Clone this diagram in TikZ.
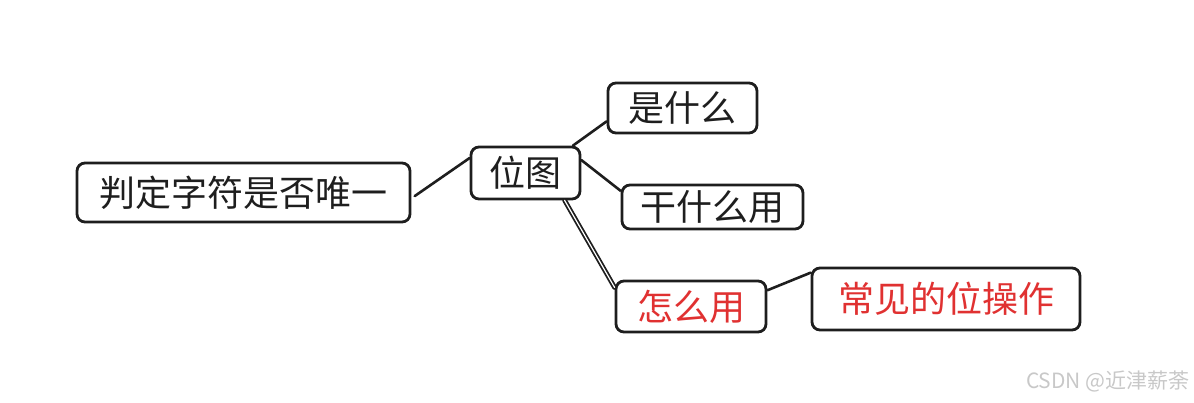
\documentclass[tikz,border=0pt]{standalone}
\usepackage{fontspec}
\newfontfamily\cjk{Noto Sans CJK SC}
\usepackage{tikz}
\usepackage{xcolor}
\definecolor{ink}{RGB}{30,30,30}
\definecolor{inkred}{RGB}{224,49,49}
\definecolor{mark}{RGB}{200,200,200}

\begin{document}
\begin{tikzpicture}[x=0.5pt,y=0.5pt,yscale=-1,xscale=1,
    box/.style={draw=ink,line width=1.4pt,rounded corners=4pt,inner sep=0pt,text=ink,font=\cjk\fontsize{18}{22}\selectfont},
    redbox/.style={box,text=inkred},
    link/.style={draw=ink,line width=1.3pt,line cap=round}]
                    \useasboundingbox (0,0) rectangle (1194,402);

                    % Root Node
                    \node [box,minimum width=166.5pt,minimum height=29.5pt] (judge) at (243.5,192.5) {判定字符是否唯一};
                    % Middle Node
                    \node [box,minimum width=54.5pt,minimum height=26pt] (bitmap) at (525.5,173) {位图};
                    % Leaf Nodes
                    \node [box,minimum width=74.5pt,minimum height=25pt] (what) at (682.5,108) {是什么};
                    \node [box,minimum width=90.5pt,minimum height=22pt] (usage) at (712.5,207) {干什么用};
                    \node [redbox,minimum width=75pt,minimum height=25.5pt] (howto) at (691,306.5) {怎么用};
                    \node [redbox,minimum width=134pt,minimum height=31pt] (bitops) at (946,299) {常见的位操作};

                    % Straight Lines
                    \draw [link,shorten <=2pt] (judge.-2) -- (bitmap.165);
                    \draw [link] (bitmap.30) -- (what.190);
                    \draw [link] (bitmap.13) -- (usage.170);
                    \draw [link,line width=0.9pt,double=white,double distance=0.6pt] (bitmap.-35) -- (howto.166);
                    \draw [link] (howto.12) -- (bitops.169);

                    % Text Node
                    \node [anchor=east,inner sep=0pt,text=mark,font=\cjk\fontsize{10.5}{12}\selectfont] (sign) at (1190,381) {CSDN @近津薪荼};
                \end{tikzpicture}
\end{document}
